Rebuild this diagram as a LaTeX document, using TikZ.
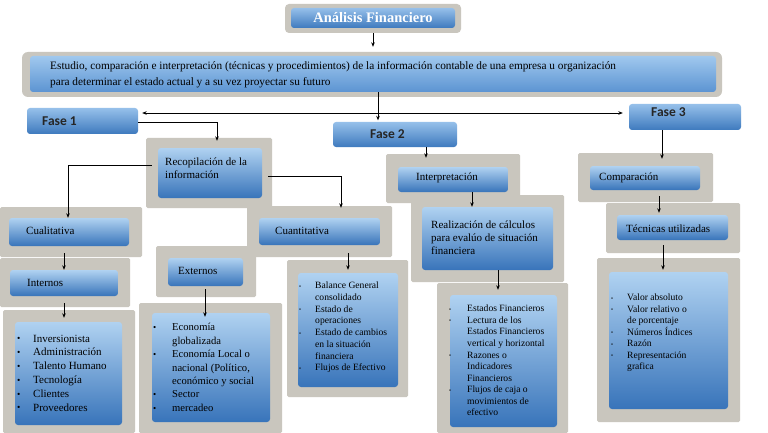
\documentclass[tikz,border=0pt]{standalone}
\usepackage{fontspec}
\setmainfont{Liberation Serif}
\newfontfamily\calib{Carlito}
\usetikzlibrary{arrows.meta}
\definecolor{frameG}{RGB}{201,198,190}
\definecolor{bTop}{RGB}{176,210,241}
\definecolor{bBot}{RGB}{56,116,186}
\definecolor{fTop}{RGB}{150,192,234}
\definecolor{fBot}{RGB}{62,122,190}
\definecolor{dTop}{RGB}{160,200,238}
\definecolor{dBot}{RGB}{92,148,210}
\newcommand\bu[2]{\makebox[#1][l]{\raisebox{0.15ex}{\scalebox{0.6}{•}}}#2}
\newcommand\bub[2]{\makebox[#1][l]{\raisebox{0.05ex}{\scalebox{0.85}{•}}}#2}
\newcommand\co[2]{\hspace*{#1}#2}
\begin{document}
\begin{tikzpicture}[x=1pt,y=-1pt,
  frame/.style={fill=frameG, inner sep=0, rounded corners=1.5pt},
  bb/.style={top color=bTop, bottom color=bBot, inner sep=0, rounded corners=3pt},
  fb/.style={top color=fTop, bottom color=fBot, inner sep=0, rounded corners=3pt},
  db/.style={top color=dTop, bottom color=dBot, inner sep=0, rounded corners=3pt},
  txt/.style={anchor=west, inner sep=0, align=left, font=\fontsize{11}{13}\selectfont},
  fasetxt/.style={anchor=west, inner sep=0, font=\calib\bfseries\fontsize{13.5}{15}\selectfont, text=black!85},
  arr/.style={-{Stealth[length=4.5pt,width=3.6pt]}, line width=0.8pt},
  arrb/.style={{Stealth[length=4.5pt,width=3.6pt]}-{Stealth[length=4.5pt,width=3.6pt]}, line width=0.8pt}]
\useasboundingbox (0,0) rectangle (768,433);
\fill[white] (0,0) rectangle (768,433);
% helper coordinates
\coordinate (h113) at (0,113);
\coordinate (h122) at (0,122);
\coordinate (h165) at (0,165);
\coordinate (h176) at (0,176);
\coordinate (v378) at (378,0);
\coordinate (v217) at (217,0);
\coordinate (v68) at (68,0);
\coordinate (v341) at (341,0);
\coordinate (v64) at (64,0);
\coordinate (v205) at (205,0);
\coordinate (v348) at (348,0);
\coordinate (v426) at (426,0);
\coordinate (v472) at (472,0);
\coordinate (v498) at (498,0);
\coordinate (v662) at (662,0);
\coordinate (v659) at (659,0);
\coordinate (v663) at (663,0);
% title
\node[frame, rounded corners=4pt, minimum width=176, minimum height=29] (G_title) at (373,18.5) {};
\node[fb, minimum width=164, minimum height=20, text=white, font=\bfseries\fontsize{14.5}{16}\selectfont] (B_title) at (373,18) {Análisis Financiero};
% description
\node[frame, rounded corners=6pt, minimum width=700, minimum height=45] (G_desc) at (372,74.5) {};
\node[db, minimum width=686, minimum height=36] (B_desc) at (373,74) {};
\node[txt, font=\fontsize{11.3}{16}\selectfont] (t_desc) at (50,75) {Estudio, comparación e interpretación (técnicas y procedimientos) de la información contable de una empresa u organización\\para determinar el estado actual y a su vez proyectar su futuro};
% fases
\node[fb, minimum width=111, minimum height=26] (B_f1) at (82.5,121) {};
\node[fb, minimum width=124, minimum height=25] (B_f2) at (395,134.5) {};
\node[fb, minimum width=112, minimum height=26] (B_f3) at (685,117) {};
\node[fasetxt] (t_f1) at (42,121) {Fase 1};
\node[fasetxt] (t_f2) at (370,134) {Fase 2};
\node[fasetxt] (t_f3) at (651,112) {Fase 3};
% grey frames
\node[frame, minimum width=126, minimum height=70] (G_rec) at (209,173) {};
\node[frame, minimum width=142, minimum height=50] (G_cual) at (71,232) {};
\node[frame, minimum width=145, minimum height=51] (G_cuan) at (319.5,231.5) {};
\node[frame, minimum width=130, minimum height=49] (G_int) at (65,282.5) {};
\node[frame, minimum width=100, minimum height=51] (G_ext) at (206,271.5) {};
\node[frame, minimum width=132, minimum height=123] (G_intl) at (69,371.5) {};
\node[frame, minimum width=143, minimum height=130] (G_extl) at (210.5,368) {};
\node[frame, minimum width=121, minimum height=137] (G_bal) at (347.5,328.5) {};
\node[frame, minimum width=134, minimum height=49] (G_interp) at (453,178.5) {};
\node[frame, minimum width=153, minimum height=87] (G_real) at (487.5,238.5) {};
\node[frame, minimum width=131, minimum height=150] (G_est) at (502.5,358) {};
\node[frame, minimum width=135, minimum height=49] (G_comp) at (645.5,177.5) {};
\node[frame, minimum width=134, minimum height=50] (G_tec) at (673,228) {};
\node[frame, minimum width=143, minimum height=164] (G_val) at (668.5,340) {};
% blue boxes
\node[bb, minimum width=104, minimum height=50] (B_rec) at (210,173) {};
\node[bb, minimum width=120, minimum height=28] (B_cual) at (69,232) {};
\node[bb, minimum width=121, minimum height=27] (B_cuan) at (319.5,231.5) {};
\node[bb, minimum width=108, minimum height=26] (B_int) at (64,283) {};
\node[bb, minimum width=75, minimum height=28] (B_ext) at (205.5,272) {};
\node[bb, minimum width=107, minimum height=103] (B_intl) at (68.5,373.5) {};
\node[bb, minimum width=118, minimum height=109] (B_extl) at (211,367.5) {};
\node[bb, minimum width=100, minimum height=114] (B_bal) at (348,330) {};
\node[bb, minimum width=110, minimum height=25] (B_interp) at (453,179.5) {};
\node[bb, minimum width=131, minimum height=63] (B_real) at (487.5,238.5) {};
\node[bb, minimum width=107, minimum height=132] (B_est) at (503.5,361) {};
\node[bb, minimum width=110, minimum height=24] (B_comp) at (645,178) {};
\node[bb, minimum width=111, minimum height=25] (B_tec) at (672.5,227.5) {};
\node[bb, minimum width=119, minimum height=137] (B_val) at (668.5,340.5) {};
% box texts
\node[txt] (t_rec) at (165,168.5) {Recopilación de la\\información};
\node[txt] (t_cual) at (26,231) {Cualitativa};
\node[txt] (t_cuan) at (275,231) {Cuantitativa};
\node[txt] (t_int) at (27,283) {Internos};
\node[txt] (t_ext) at (178,271) {Externos};
\node[txt] (t_interp) at (416,178) {Interpretación};
\node[txt] (t_real) at (431,237.5) {Realización de cálculos\\para evalúo de situación\\financiera};
\node[txt] (t_comp) at (599,178) {Comparación};
\node[txt] (t_tec) at (626,228.5) {Técnicas utilizadas};
% lists
\node[txt, font=\fontsize{11}{13.8}\selectfont] (l_int) at (17,373) {\bub{16pt}{Inversionista}\\\bub{16pt}{Administración}\\\bub{16pt}{Talento Humano}\\\bub{16pt}{Tecnología}\\\bub{16pt}{Clientes}\\\bub{16pt}{Proveedores}};
\node[txt, font=\fontsize{10.6}{13.4}\selectfont] (l_ext) at (153,367.5) {\bub{19pt}{Economía}\\\co{19pt}{globalizada}\\\bub{19pt}{Economía Local o}\\\co{19pt}{nacional (Político,}\\\co{19pt}{económico y social}\\\bub{19pt}{Sector}\\\bub{19pt}{mercadeo}};
\node[txt, font=\fontsize{9.6}{11.7}\selectfont] (l_bal) at (299,327.5) {\bu{16pt}{Balance General}\\\co{16pt}{consolidado}\\\bu{16pt}{Estado de}\\\co{16pt}{operaciones}\\\bu{16pt}{Estado de cambios}\\\co{16pt}{en la situación}\\\co{16pt}{financiera}\\\bu{16pt}{Flujos de Efectivo}};
\node[txt, font=\fontsize{9.6}{11.55}\selectfont] (l_est) at (449,360.5) {\bu{18pt}{Estados Financieros}\\\bu{18pt}{Lectura de los}\\\co{18pt}{Estados Financieros}\\\co{18pt}{vertical y horizontal}\\\bu{18pt}{Razones o}\\\co{18pt}{Indicadores}\\\co{18pt}{Financieros}\\\bu{18pt}{Flujos de caja o}\\\co{18pt}{movimientos de}\\\co{18pt}{efectivo}};
\node[txt, font=\fontsize{9.6}{11.5}\selectfont] (l_val) at (611,333) {\bu{16pt}{Valor absoluto}\\\bu{16pt}{Valor relativo o}\\\co{16pt}{de porcentaje}\\\bu{16pt}{Números Índices}\\\bu{16pt}{Razón}\\\bu{16pt}{Representación}\\\co{16pt}{grafica}};
% connectors
\draw[arr, shorten >=5pt] (G_title.south) -- (G_title.south |- G_desc.north);
\draw[arr, shorten >=1.5pt] (B_desc.south -| v378) -- (B_f2.north -| v378);
\draw[arrb, shorten <=4pt, shorten >=6pt] (B_f1.east |- h113) -- (B_f3.west |- h113);
\draw[arr, shorten >=-3pt] (B_f1.east |- h122) -| (G_rec.north -| v217);
\draw[arr, shorten <=6pt] (B_rec.west |- h165) -| (B_cual.north -| v68);
\draw[arr, shorten <=6pt, shorten >=-2pt] (B_rec.east |- h176) -| (G_cuan.north -| v341);
\draw[arr, shorten <=7pt] (B_cual.south -| v64) -- (B_int.north -| v64);
\draw[arr, shorten <=7pt, shorten >=4pt] (B_int.south -| v64) -- (B_intl.north -| v64);
\draw[arr, shorten <=3pt, shorten >=-4pt] (B_ext.south -| v205) -- (B_extl.north -| v205);
\draw[arr, shorten <=8pt, shorten >=3pt] (B_cuan.south -| v348) -- (B_bal.north -| v348);
\draw[arr, shorten >=-4pt] (B_f2.south -| v426) -- (G_interp.north -| v426);
\draw[arr] (B_interp.south -| v472) -- (B_real.north -| v472);
\draw[arr, shorten >=5pt] (B_real.south -| v498) -- (B_est.north -| v498);
\draw[arr, shorten >=7pt] (B_f3.south -| v662) -- (B_comp.north -| v662);
\draw[arr, shorten <=6pt, shorten >=2pt] (B_comp.south -| v659) -- (B_tec.north -| v659);
\draw[arr, shorten <=5pt, shorten >=2pt] (B_tec.south -| v663) -- (B_val.north -| v663);
\end{tikzpicture}
\end{document}
